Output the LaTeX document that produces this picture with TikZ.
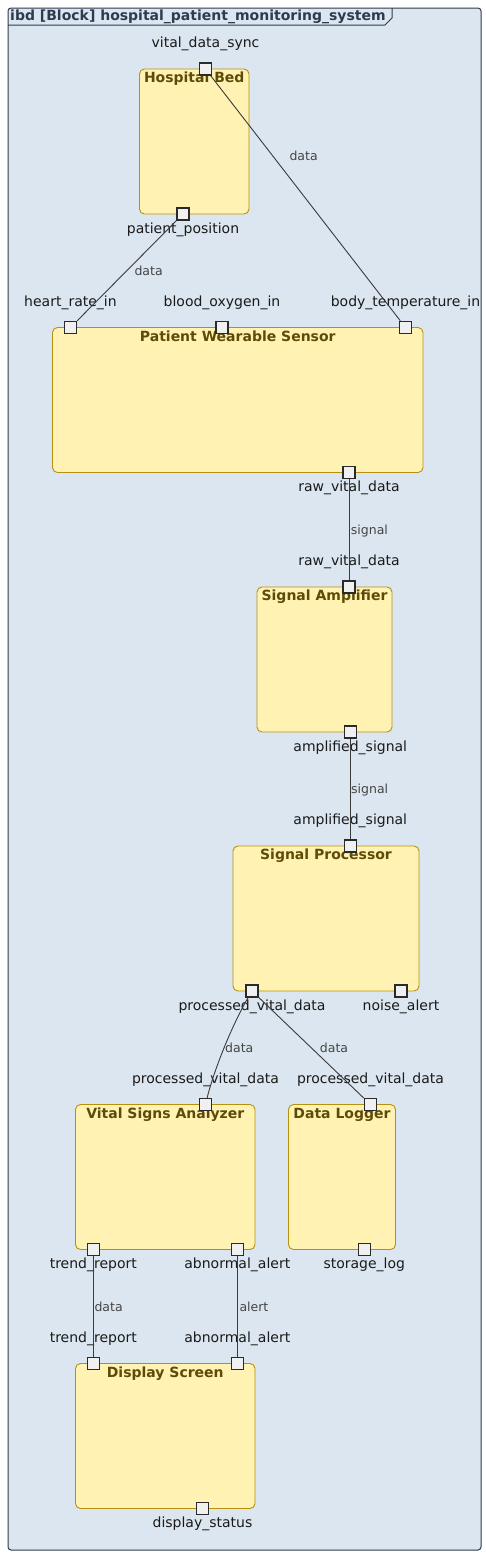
\documentclass[tikz,border=0pt]{standalone}
\usepackage{fontspec}
\setmainfont{DejaVu Sans}
\definecolor{bgc}{HTML}{DCE6F0}
\definecolor{framec}{HTML}{2F3A50}
\definecolor{blockfill}{HTML}{FFF2B3}
\definecolor{blockdraw}{HTML}{B8900F}
\definecolor{blocktitle}{HTML}{5E4B08}
\definecolor{portfill}{HTML}{F0F0F0}
\definecolor{portdraw}{HTML}{2A2A2A}
\definecolor{linec}{HTML}{3A3A3A}
\definecolor{plabelc}{HTML}{1A1A1A}
\definecolor{clabelc}{HTML}{454545}
\begin{document}
\begin{tikzpicture}[x=1pt,y=-1pt,
  blockbox/.style={draw=blockdraw,fill=blockfill,line width=0.9pt,rounded corners=5pt,inner sep=0pt},
  blocktitletext/.style={anchor=base,inner sep=0pt,text=blocktitle,font=\fontsize{14}{16}\selectfont\bfseries},
  portbox/.style={draw=portdraw,fill=portfill,line width=1.5pt,minimum width=12pt,minimum height=12pt,inner sep=0pt},
  portlabel/.style={anchor=base,inner sep=0pt,text=plabelc,font=\fontsize{14}{16}\selectfont},
  conn/.style={draw=linec,line width=0.9pt},
  connlabel/.style={anchor=base west,inner sep=0pt,text=clabelc,font=\fontsize{12.5}{14}\selectfont}]
\useasboundingbox (0,0) rectangle (486,1556);
\fill[white] (0,0) rectangle (486,1556);
% frame
\draw[framec,fill=bgc,line width=1pt,rounded corners=3pt] (8,8) rectangle (481,1550);
\draw[framec,line width=1pt] (8,25) -- (385,25) -- (392,18) -- (392,8);
\node[anchor=base west,inner sep=0pt,text=framec,font=\fontsize{14}{16}\selectfont\bfseries] (frametitle) at (10,20.7) {ibd [Block] hospital\_patient\_monitoring\_system};
% blocks
\node[blockbox,minimum width=109.5pt,minimum height=145pt] (bed) at (194.25,141.5) {};
\node[blocktitletext] (bedT) at (194.25,82.8) {Hospital Bed};
\node[blockbox,minimum width=370.5pt,minimum height=145pt] (pws) at (237.75,400) {};
\node[blocktitletext] (pwsT) at (237.75,341.3) {Patient Wearable Sensor};
\node[blockbox,minimum width=135pt,minimum height=145pt] (amp) at (324.5,659.5) {};
\node[blocktitletext] (ampT) at (324.5,600.8) {Signal Amplifier};
\node[blockbox,minimum width=186pt,minimum height=145pt] (proc) at (326,918.5) {};
\node[blocktitletext] (procT) at (326,859.8) {Signal Processor};
\node[blockbox,minimum width=179.5pt,minimum height=145pt] (vsa) at (165.25,1177) {};
\node[blocktitletext] (vsaT) at (165.25,1118.3) {Vital Signs Analyzer};
\node[blockbox,minimum width=107pt,minimum height=145pt] (logger) at (342,1177) {};
\node[blocktitletext] (loggerT) at (342,1118.3) {Data Logger};
\node[blockbox,minimum width=179.5pt,minimum height=145pt] (disp) at (165.25,1436) {};
\node[blocktitletext] (dispT) at (165.25,1377.3) {Display Screen};
% ports
\node[portbox] (bedSync) at (205.5,69) {};
\node[portbox] (bedPos) at (183,214) {};
\node[portbox] (pwsHeart) at (70.5,327.5) {};
\node[portbox] (pwsOxy) at (222,327.5) {};
\node[portbox] (pwsTemp) at (405.5,327.5) {};
\node[portbox] (pwsRaw) at (349,472.5) {};
\node[portbox] (ampRaw) at (349,587) {};
\node[portbox] (ampOut) at (350.3,732) {};
\node[portbox] (procIn) at (350.3,846) {};
\node[portbox] (procOut) at (252,991) {};
\node[portbox] (procNoise) at (401,991) {};
\node[portbox] (vsaIn) at (205.5,1104.5) {};
\node[portbox] (vsaTrend) at (93.3,1249.5) {};
\node[portbox] (vsaAlert) at (237.3,1249.5) {};
\node[portbox] (logIn) at (370.5,1104.5) {};
\node[portbox] (logStore) at (364.3,1249.5) {};
\node[portbox] (dispTrend) at (93.3,1363.5) {};
\node[portbox] (dispAlert) at (237.3,1363.5) {};
\node[portbox] (dispStatus) at (202.5,1508.5) {};
% port labels
\node[portlabel] (lbedSync) at (205.5,47.5) {vital\_data\_sync};
\node[portlabel] (lbedPos) at (183,233) {patient\_position};
\node[portlabel] (lpwsHeart) at (70.5,306) {heart\_rate\_in};
\node[portlabel] (lpwsOxy) at (222,306) {blood\_oxygen\_in};
\node[portlabel] (lpwsTemp) at (405.5,306) {body\_temperature\_in};
\node[portlabel] (lpwsRaw) at (349,491.5) {raw\_vital\_data};
\node[portlabel] (lampRaw) at (349,565.5) {raw\_vital\_data};
\node[portlabel] (lampOut) at (350.3,751) {amplified\_signal};
\node[portlabel] (lprocIn) at (350.3,824.5) {amplified\_signal};
\node[portlabel] (lprocOut) at (252,1010) {processed\_vital\_data};
\node[portlabel] (lprocNoise) at (401,1010) {noise\_alert};
\node[portlabel] (lvsaIn) at (205.5,1083) {processed\_vital\_data};
\node[portlabel] (llogIn) at (370.5,1083) {processed\_vital\_data};
\node[portlabel] (lvsaTrend) at (93.3,1268.5) {trend\_report};
\node[portlabel] (lvsaAlert) at (237.3,1268.5) {abnormal\_alert};
\node[portlabel] (llogStore) at (364.3,1268.5) {storage\_log};
\node[portlabel] (ldispTrend) at (93.3,1342) {trend\_report};
\node[portlabel] (ldispAlert) at (237.3,1342) {abnormal\_alert};
\node[portlabel] (ldispStatus) at (202.5,1527.5) {display\_status};
% connectors
\draw[conn] (bedSync) -- (pwsTemp);
\draw[conn] (bedPos) -- (pwsHeart);
\draw[conn] (pwsRaw) -- (ampRaw);
\draw[conn] (ampOut) -- (procIn);
\draw[conn] (procOut) .. controls (232,1025) and (214,1070) .. (vsaIn);
\draw[conn] (procOut) -- (logIn);
\draw[conn] (vsaTrend) -- (dispTrend);
\draw[conn] (vsaAlert) -- (dispAlert);
% connector labels
\node[connlabel] (c1) at (289.3,160.7) {data};
\node[connlabel] (c2) at (134.3,275) {data};
\node[connlabel] (c3) at (350.7,534) {signal};
\node[connlabel] (c4) at (351,793.3) {signal};
\node[connlabel] (c5) at (225,1052.3) {data};
\node[connlabel] (c6) at (319.7,1052.3) {data};
\node[connlabel] (c7) at (94.3,1311) {data};
\node[connlabel] (c8) at (239.3,1311) {alert};
\end{tikzpicture}
\end{document}
